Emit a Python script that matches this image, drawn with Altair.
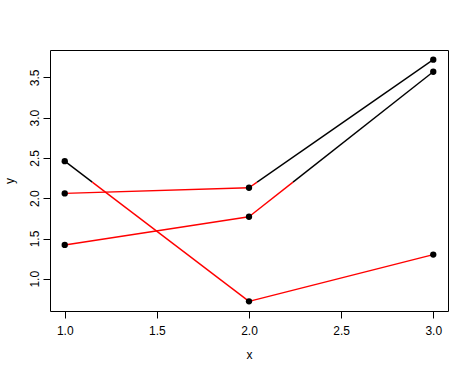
import altair as alt
import pandas as pd

x_vals = [1, 2, 3]
series_a = [2.06, 2.13, 3.72]
series_b = [1.42, 1.77, 3.57]
series_c = [2.46, 0.72, 1.30]
threshold = 2.2
x_ticks = [1.0, 1.5, 2.0, 2.5, 3.0]
y_ticks = [1.0, 1.5, 2.0, 2.5, 3.0, 3.5]

all_series = {"a": series_a, "b": series_b, "c": series_c}

def col_of(y):
    return "#000000" if y > threshold else "#ff0000"

pts = []
segs = []
seg_id = 0
for name, ys in all_series.items():
    for x, y in zip(x_vals, ys):
        pts.append({"x": x, "y": y})
    for i in range(len(ys) - 1):
        x0, y0, x1, y1 = x_vals[i], ys[i], x_vals[i + 1], ys[i + 1]
        if (y0 > threshold) != (y1 > threshold):
            xc = x0 + (threshold - y0) * (x1 - x0) / (y1 - y0)
            pieces = [((x0, y0), (xc, threshold), col_of(y0)),
                      ((xc, threshold), (x1, y1), col_of(y1))]
        else:
            pieces = [((x0, y0), (x1, y1), col_of(y0))]
        for (pa, pb, c) in pieces:
            segs.append({"x": pa[0], "y": pa[1], "seg": seg_id, "col": c, "o": 0})
            segs.append({"x": pb[0], "y": pb[1], "seg": seg_id, "col": c, "o": 1})
            seg_id += 1

pts_df = pd.DataFrame(pts)
seg_df = pd.DataFrame(segs)

ally = series_a + series_b + series_c
ymin, ymax = min(ally), max(ally)
yr = ymax - ymin
xmin, xmax = min(x_vals), max(x_vals)
xr = xmax - xmin

font = "Liberation Sans"

xscale = alt.Scale(domain=[xmin - 0.04 * xr, xmax + 0.04 * xr], nice=False, zero=False)
yscale = alt.Scale(domain=[ymin - 0.04 * yr, ymax + 0.04 * yr], nice=False, zero=False)

xaxis = alt.Axis(values=x_ticks, format=".1f", grid=False, domain=False,
                 tickSize=7, tickColor="#000", labelColor="#000", labelFont=font,
                 labelFontSize=12, labelPadding=7, labelBaseline="top",
                 title="x", titleFont=font, titleFontSize=12, titleFontWeight="normal",
                 titleColor="#000", titleY=47, titleBaseline="alphabetic")
yaxis = alt.Axis(values=y_ticks, format=".1f", grid=False, domain=False,
                 tickSize=7, tickColor="#000", labelColor="#000", labelFont=font,
                 labelFontSize=12, labelPadding=5, labelAngle=270, labelAlign="center",
                 labelBaseline="alphabetic",
                 title="y", titleFont=font, titleFontSize=12, titleFontWeight="normal",
                 titleColor="#000", titleX=-37, titleAngle=270, titleBaseline="alphabetic")

lines = alt.Chart(seg_df).mark_line(strokeWidth=1.4).encode(
    x=alt.X("x:Q", scale=xscale, axis=xaxis),
    y=alt.Y("y:Q", scale=yscale, axis=yaxis),
    detail="seg:N",
    order="o:Q",
    color=alt.Color("col:N", scale=None),
)

points = alt.Chart(pts_df).mark_circle(size=40, color="#000", opacity=1).encode(
    x=alt.X("x:Q", scale=xscale),
    y=alt.Y("y:Q", scale=yscale),
)

chart = alt.layer(lines, points).properties(
    width=398, height=261,
    autosize=alt.AutoSizeParams(type="none"),
    padding={"left": 50, "top": 50, "right": 26, "bottom": 63},
    background="white",
).configure_view(stroke="#000", strokeWidth=1)

chart.save("out.html", embed_options={"renderer": "svg", "actions": False})
